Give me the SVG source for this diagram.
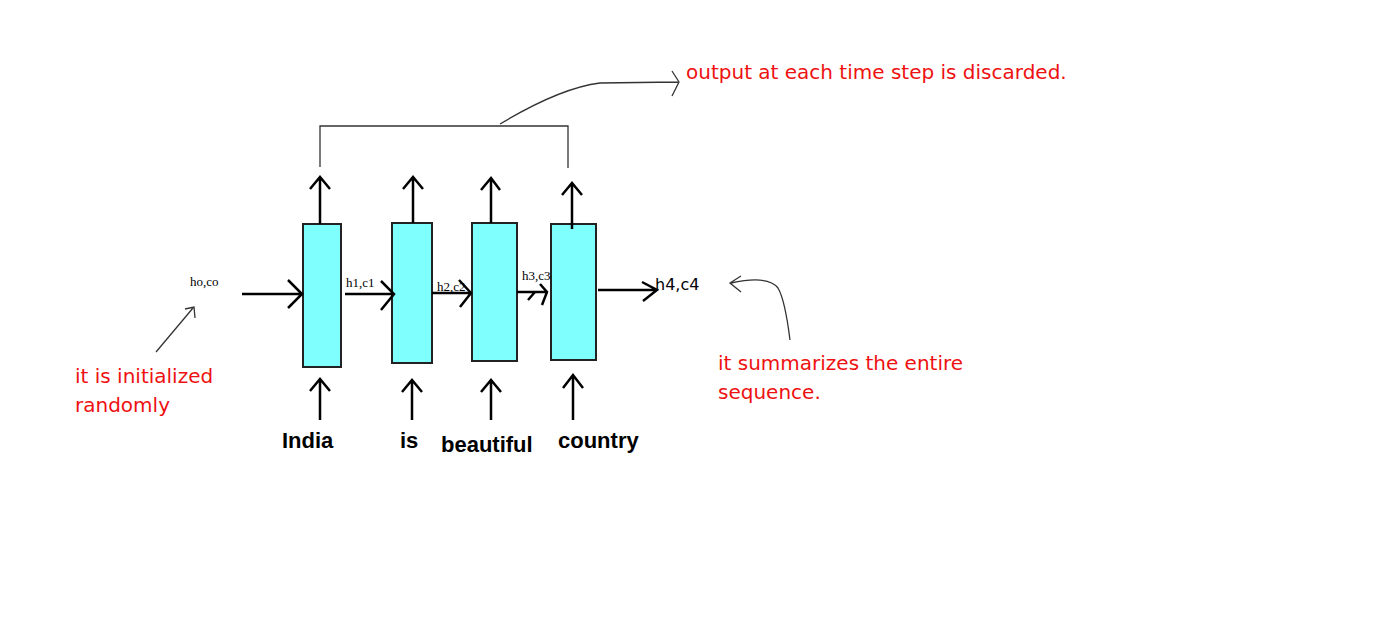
<svg xmlns="http://www.w3.org/2000/svg" width="1400" height="617" viewBox="0 0 1400 617">
<style>
.cell{fill:#80ffff;stroke:#222;stroke-width:2}
.ln{stroke:#000;stroke-width:2.5;fill:none}
.thin{stroke:#333;stroke-width:1.3;fill:none}
.red{fill:#ee1111;font-family:"DejaVu Sans",sans-serif;font-size:20px}
.word{font-family:"Liberation Sans",Arial,sans-serif;font-weight:bold;font-size:22px;fill:#000}
.serif{font-family:"Liberation Serif",serif;font-size:13px;fill:#000}
</style>
<rect width="1400" height="617" fill="#fff"/>
<g id="cell1"><rect class="cell" x="303" y="224" width="38" height="143"/></g>
<g id="cell2"><rect class="cell" x="392" y="223" width="40" height="140"/></g>
<g id="cell3"><rect class="cell" x="472" y="223" width="45" height="138"/></g>
<g id="cell4"><rect class="cell" x="551" y="224" width="45" height="136"/></g>
<g id="connectors">
<path class="ln" d="M320 224V178M310 189L320 177L330 189"/>
<path class="ln" d="M413 223V178M403 189L413 177L423 189"/>
<path class="ln" d="M491 223V178M481 190L491 178L500 190"/>
<path class="ln" d="M572 229V183M562 195L572 183L582 195"/>
<path class="ln" d="M320 420V380M310 391L320 379L330 391"/>
<path class="ln" d="M412 420V381M402 392L412 380L422 392"/>
<path class="ln" d="M491 420V381M481 392L491 380L501 392"/>
<path class="ln" d="M573 420V376M563 388L573 375L583 388"/>
<path class="ln" d="M242 294H302M288 280L302 294L288 308"/>
<path class="ln" d="M345 294H393M381 281L394 294L381 310"/>
<path class="ln" d="M432 293H471M459 280L471 293L460 307"/>
<path class="ln" d="M517 292H535M528 300L535 292" /><path class="ln" d="M535 292H547M540 284L547 292L542 305"/>
<path class="ln" d="M598 290H657M642 282L657 290L643 301"/>
<path class="thin" d="M320 167V126H568V168"/>
<path class="thin" d="M500 124Q560 88 600 83L678 82M672 71L679 82L672 96"/>
<path class="thin" d="M156 352L193 308M185 309L194 307L195 318"/>
<path class="thin" d="M790 340Q785 300 778 288Q768 275 731 283M741 276L730 283L741 292"/>
</g>
<g id="labels">
<text class="serif" x="190" y="286">ho,co</text>
<text class="serif" x="346" y="287">h1,c1</text>
<text class="serif" x="437" y="291" font-size="11">h2,c2</text>
<text class="serif" x="522" y="280" font-size="11">h3,c3</text>
<text x="655" y="290" font-family="DejaVu Sans,sans-serif" font-size="16">h4,c4</text>
<text class="word" x="282" y="448">India</text>
<text class="word" x="400" y="448">is</text>
<text class="word" x="441" y="452">beautiful</text>
<text class="word" x="558" y="448">country</text>
<text class="red" x="686" y="79">output at <tspan dx="0">each time step is discarded.</tspan></text>
<text class="red" x="75" y="383">it is initialized</text>
<text class="red" x="75" y="412">randomly</text>
<text class="red" x="718" y="370">it summarizes the entire</text>
<text class="red" x="718" y="399">sequence.</text>
</g>
</svg>
